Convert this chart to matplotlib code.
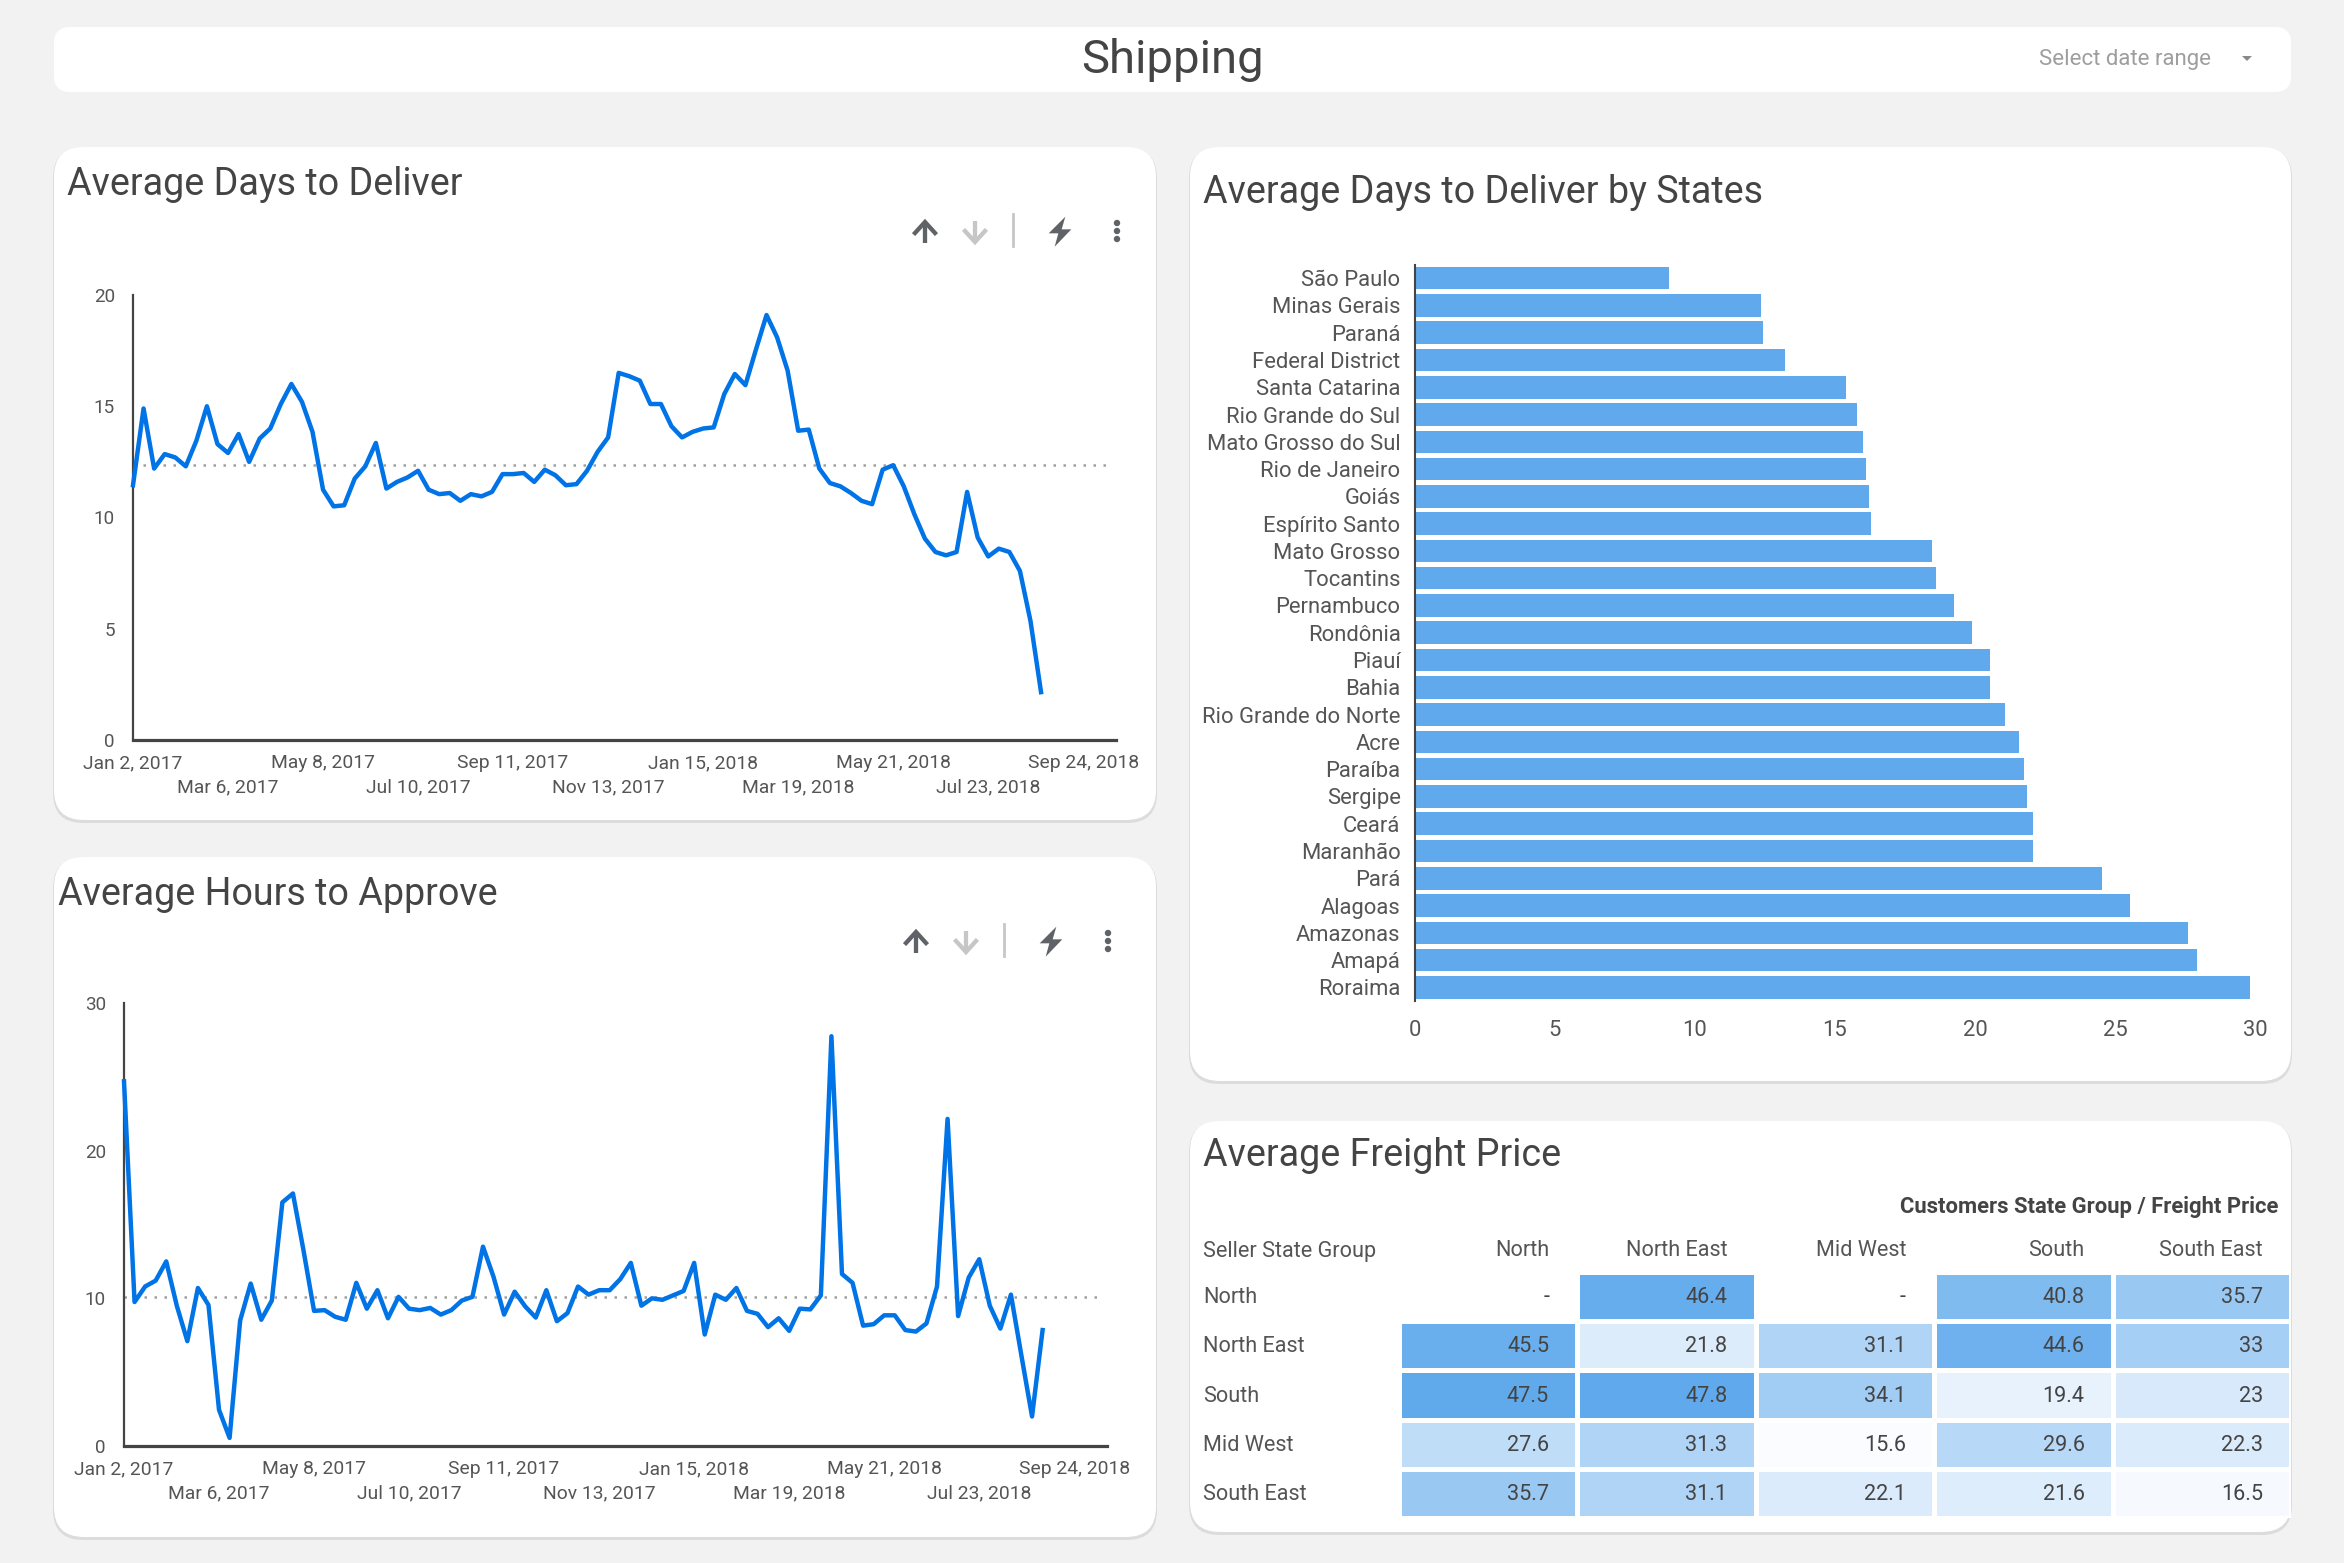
import matplotlib
matplotlib.use("Agg")
import matplotlib.pyplot as plt
import numpy as np
import pandas as pd
from matplotlib.patches import FancyBboxPatch, Polygon, Circle
from matplotlib.colors import LinearSegmentedColormap, Normalize

plt.rcParams['font.family'] = ['Roboto', 'DejaVu Sans']

days_to_deliver = [11.45,14.9,12.2,12.85,12.7,12.3,13.45,15.0,13.3,12.9,13.75,12.5,13.55,14.0,15.1,16.0,15.2,13.85,
                   11.25,10.5,10.55,11.75,12.3,13.35,11.3,11.6,11.8,12.1,11.25,11.05,11.1,10.75,11.05,10.95,11.15,
                   11.95,11.95,12.0,11.6,12.15,11.9,11.45,11.5,12.1,12.95,13.6,16.5,16.35,16.15,15.1,15.1,14.1,13.6,
                   13.85,14.0,14.05,15.55,16.45,15.95,17.55,19.1,18.1,16.6,13.9,13.95,12.2,11.55,11.4,11.1,10.75,10.6,
                   12.15,12.35,11.4,10.15,9.05,8.45,8.3,8.45,11.15,9.1,8.25,8.6,8.45,7.6,5.35,2.15]
days_mean = 12.37

hours_to_approve = [24.7,9.75,10.8,11.2,12.5,9.5,7.1,10.7,9.55,2.45,0.55,8.5,11.0,8.55,9.85,16.5,17.1,13.25,9.15,9.2,
                    8.75,8.55,11.05,9.3,10.55,8.65,10.1,9.3,9.2,9.35,8.9,9.2,9.85,10.1,13.5,11.45,8.9,10.45,9.45,8.7,
                    10.55,8.45,9.0,10.8,10.25,10.55,10.55,11.3,12.4,9.5,10.0,9.9,10.2,10.5,12.4,7.55,10.25,9.9,10.7,
                    9.15,8.95,8.05,8.65,7.8,9.3,9.25,10.2,27.75,11.65,11.05,8.15,8.25,8.85,8.85,7.85,7.75,8.3,10.8,
                    22.15,8.8,11.4,12.65,9.5,7.95,10.25,6.1,2.0,7.85]
hours_mean = 10.1

date_labels_row1 = ["Jan 2, 2017", "May 8, 2017", "Sep 11, 2017", "Jan 15, 2018", "May 21, 2018", "Sep 24, 2018"]
date_labels_row2 = ["Mar 6, 2017", "Jul 10, 2017", "Nov 13, 2017", "Mar 19, 2018", "Jul 23, 2018"]

states = ["São Paulo","Minas Gerais","Paraná","Federal District","Santa Catarina","Rio Grande do Sul",
          "Mato Grosso do Sul","Rio de Janeiro","Goiás","Espírito Santo","Mato Grosso","Tocantins","Pernambuco",
          "Rondônia","Piauí","Bahia","Rio Grande do Norte","Acre","Paraíba","Sergipe","Ceará","Maranhão","Pará",
          "Alagoas","Amazonas","Amapá","Roraima"]
state_days = [9.09,12.37,12.42,13.23,15.4,15.78,16.0,16.09,16.2,16.3,18.46,18.6,19.24,19.9,20.53,20.53,21.06,21.56,
              21.74,21.84,22.07,22.07,24.52,25.53,27.6,27.93,29.8]

seller_groups = ["North","North East","South","Mid West","South East"]
customer_groups = ["North","North East","Mid West","South","South East"]
freight_north = [np.nan, 46.4, np.nan, 40.8, 35.7]
freight_north_east = [45.5, 21.8, 31.1, 44.6, 33]
freight_south = [47.5, 47.8, 34.1, 19.4, 23]
freight_mid_west = [27.6, 31.3, 15.6, 29.6, 22.3]
freight_south_east = [35.7, 31.1, 22.1, 21.6, 16.5]

W, H = 2344, 1563
BG = "#f2f2f2"
TXT = "#444444"
LINE = "#0073e6"
AXC = "#444444"
LBL = "#555555"

fig = plt.figure(figsize=(W/100, H/100), dpi=100, facecolor=BG)
bg = fig.add_axes([0, 0, 1, 1], zorder=0)
bg.set_xlim(0, W); bg.set_ylim(H, 0); bg.axis("off")

def axes_px(x0, y0, x1, y1, **kw):
    return fig.add_axes([x0/W, 1-y1/H, (x1-x0)/W, (y1-y0)/H], zorder=2, facecolor="none", **kw)

def card(x0, y0, x1, y1, r=30, shadow=True):
    if shadow:
        bg.add_patch(FancyBboxPatch((x0-1, y0+1), x1-x0+2, y1-y0+2, boxstyle=f"round,pad=0,rounding_size={r}",
                                    fc="#dcdcdc", ec="none"))
    bg.add_patch(FancyBboxPatch((x0, y0), x1-x0, y1-y0, boxstyle=f"round,pad=0,rounding_size={r}",
                                fc="white", ec="none"))

card(54, 27, 2291, 92, r=16, shadow=False)
card(54, 147, 1156, 820)
card(54, 857, 1156, 1537)
card(1190, 147, 2291, 1081)
card(1190, 1121, 2291, 1532)

bg.text(1172, 60, "Shipping", fontsize=34, color=TXT, ha="center", va="center")
bg.text(2039, 59.5, "Select date range", fontsize=16, color="#9e9e9e", ha="left", va="center")
bg.add_patch(Polygon([[2242, 56], [2252, 56], [2247, 61]], fc="#8a8a8a", ec="none"))

TITLE = 27.1
bg.text(67, 195, "Average Days to Deliver", fontsize=TITLE, color=TXT, va="baseline")
bg.text(58, 905, "Average Hours to Approve", fontsize=TITLE, color=TXT, va="baseline")
bg.text(1203, 203, "Average Days to Deliver by States", fontsize=TITLE, color=TXT, va="baseline")
bg.text(1203, 1166, "Average Freight Price", fontsize=TITLE, color=TXT, va="baseline")

def icons(dx, dy):
    dark, light = "#5f6368", "#c6c6c6"
    for cx, col, s in [(925+dx, dark, 1), (975+dx, light, -1)]:
        cy = 232+dy
        bg.plot([cx, cx], [cy-10*s, cy+11*s], color=col, lw=3.1, solid_capstyle="butt")
        bg.plot([cx-10, cx, cx+10], [cy+1*s, cy-10*s, cy+1*s], color=col, lw=3.1, solid_joinstyle="miter")
    bg.plot([1013+dx, 1013+dx], [214+dy, 246+dy], color="#c6c6c6", lw=2)
    pts = np.array([[616, 80], [566, 130], [595, 130], [584, 170], [634, 118], [605, 118]])/3 + [860+dx, 190+dy]
    bg.add_patch(Polygon(pts, fc=dark, ec="none"))
    for yy in (223, 231, 239):
        bg.add_patch(Circle((1117+dx, yy+dy), 3.2, fc=dark, ec="none"))

icons(0, 0)
icons(-9, 710)

def line_chart(box, values, mean, ymax, yticks):
    ax = axes_px(*box)
    dates = pd.date_range("2017-01-02", periods=len(values), freq="7D")
    ax.plot(dates, values, color=LINE, lw=3.2, solid_joinstyle="round", clip_on=False, zorder=3)
    start = pd.Timestamp("2017-01-02")
    ax.set_xlim(start, start + pd.Timedelta(days=93.1*7))
    ax.set_ylim(0, ymax)
    ax.plot([start, start + pd.Timedelta(days=93.1*7-4)], [mean, mean], color="#a0a0a0", lw=1.8, ls=(0, (1, 3)), zorder=1)
    ax.set_yticks(yticks)
    ax.tick_params(axis="y", length=0, pad=13, labelsize=13.6, labelcolor=LBL)
    ax.set_xticks(pd.to_datetime(date_labels_row1, format="%b %d, %Y"))
    ax.set_xticklabels(date_labels_row1)
    ax.set_xticks(pd.to_datetime(date_labels_row2, format="%b %d, %Y"), minor=True)
    ax.set_xticklabels(date_labels_row2, minor=True)
    ax.tick_params(axis="x", which="major", length=0, pad=10, labelsize=13.9, labelcolor=LBL)
    ax.tick_params(axis="x", which="minor", length=0, pad=27.5, labelsize=13.9, labelcolor=LBL)
    for s in ("top", "right"):
        ax.spines[s].set_visible(False)
    ax.spines["left"].set_color(AXC); ax.spines["left"].set_linewidth(1.6)
    ax.spines["bottom"].set_color(AXC); ax.spines["bottom"].set_linewidth(2.3)
    return ax

line_chart((133, 295, 1116, 740), days_to_deliver, days_mean, 20, [0, 5, 10, 15, 20])
line_chart((124, 1003, 1107, 1446), hours_to_approve, hours_mean, 30, [0, 10, 20, 30])

# horizontal bars
axb = axes_px(1414.5, 264.5, 2255.5, 1001)
ypos = np.arange(len(states))
axb.barh(ypos, state_days, height=0.825, color="#5fa9ec")
axb.set_ylim(len(states)-0.5, -0.5)
axb.set_xlim(0, 30)
axb.set_yticks(ypos); axb.set_yticklabels(states)
axb.set_xticks(np.arange(0, 31, 5))
axb.tick_params(axis="y", length=0, pad=10, labelsize=15.8, labelcolor=LBL)
axb.tick_params(axis="x", length=0, pad=14, labelsize=15.8, labelcolor=LBL)
for s in ("top", "right", "bottom"):
    axb.spines[s].set_visible(False)
axb.spines["left"].set_color(AXC); axb.spines["left"].set_linewidth(1.5)

# heat table
axh = axes_px(1398.5, 1272, 2291, 1518)
matrix = np.ma.masked_invalid(np.array([freight_north, freight_north_east, freight_south, freight_mid_west, freight_south_east], dtype=float))
cmap = LinearSegmentedColormap.from_list("fr", ["#fafcff", "#5fa9ec"])
cmap.set_bad("white")
axh.pcolormesh(matrix, cmap=cmap, norm=Normalize(15.6, 47.8), edgecolors="white", linewidth=2.4)
axh.set_ylim(len(seller_groups), 0)
axh.set_xlim(0, len(customer_groups))
axh.axis("off")
cx0 = 1398.5
cw = (2291-cx0)/5
rh = (1518-1272)/5
FS = 15.6
for r, seller in enumerate(seller_groups):
    yc = 1272 + rh*(r+0.5)
    bg.text(1203, yc+1, seller, fontsize=FS, color=LBL, va="center")
    for c in range(len(customer_groups)):
        v = matrix[r, c]
        s = "-" if np.ma.is_masked(v) else f"{v:g}"
        axh.text(c + 1 - 28/cw, r + 0.5 + 1/rh, s, fontsize=FS, color="#444444", ha="right", va="center")
for c, g in enumerate(customer_groups):
    bg.text(cx0 + cw*(c+1) - 28, 1251, g, fontsize=FS, color=LBL, ha="right", va="center")
bg.text(1203, 1252, "Seller State Group", fontsize=FS, color=LBL, va="center")
bg.text(2278, 1206.5, "Customers State Group / Freight Price", fontsize=15.8, color=TXT, fontweight="bold", ha="right", va="center")

fig.savefig("out.png", dpi=100, facecolor=BG)
